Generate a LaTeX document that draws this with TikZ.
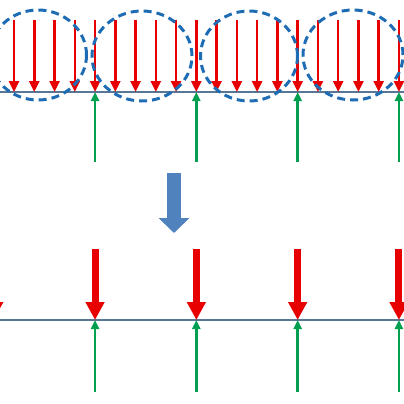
\documentclass[tikz,border=0pt]{standalone}
\usepackage{tikz}
\usepackage{xcolor}
\usetikzlibrary{arrows.meta,shapes.geometric}

\definecolor{loadred}{RGB}{232,0,0}
\definecolor{supgreen}{RGB}{0,160,80}
\definecolor{beamgray}{RGB}{88,118,150}
\definecolor{ringblue}{RGB}{30,108,180}
\definecolor{stepblue}{RGB}{80,130,190}

\begin{document}
\begin{tikzpicture}[x=1pt,y=-1pt,
        load/.style={loadred,line width=2.5pt,-{Triangle[width=10pt,length=11pt]}},
        bigload/.style={loadred,line width=7pt,-{Triangle[width=18pt,length=18pt]}},
        support/.style={supgreen,line width=2.5pt,-{Triangle[width=8pt,length=9pt]}},
        beam/.style={beamgray,line width=1.8pt},
        ring/.style={draw=ringblue,line width=3pt,dash pattern=on 8pt off 5pt}]
            \useasboundingbox (0,0) rectangle (404,404);
            \clip (0,0) rectangle (404,404);

            % upper beam with distributed load
            \coordinate (ul) at (0,92);
            \coordinate (ur) at (404,92);
            \draw[beam] (ul) -- (ur);
            \foreach \i in {0,...,19} {
                \coordinate (q\i) at (14+20.26*\i,20);
                \coordinate (p\i) at (14+20.26*\i,92);
                \draw[load] (q\i) -- (p\i);
            }
            \foreach \i in {4,9,14,19} {
                \coordinate (g\i) at (14+20.26*\i,162);
                \draw[support] (g\i) -- (p\i);
            }

            % grouping rings
            \node (c1) at (38,55) [ellipse,ring,minimum width=97pt,minimum height=90pt] {};
            \node (c2) at (142,56) [ellipse,ring,minimum width=100pt,minimum height=90pt] {};
            \node (c3) at (249,56) [ellipse,ring,minimum width=97pt,minimum height=90pt] {};
            \node (c4) at (353,55) [ellipse,ring,minimum width=100pt,minimum height=90pt] {};

            % step arrow
            \coordinate (s1) at (174,173);
            \coordinate (s2) at (174,233);
            \draw[stepblue,line width=14pt,-{Triangle[width=30pt,length=15pt]}] (s1) -- (s2);

            % lower beam with point loads
            \coordinate (ll) at (0,320);
            \coordinate (lr) at (404,320);
            \draw[beam] (ll) -- (lr);
            \foreach \i in {-1,4,9,14,19} {
                \coordinate (a\i) at (14+20.26*\i,249);
                \coordinate (b\i) at (14+20.26*\i,320);
                \draw[bigload] (a\i) -- (b\i);
            }
            \foreach \i in {4,9,14,19} {
                \coordinate (h\i) at (14+20.26*\i,392);
                \draw[support] (h\i) -- (b\i);
            }
\end{tikzpicture}
\end{document}
